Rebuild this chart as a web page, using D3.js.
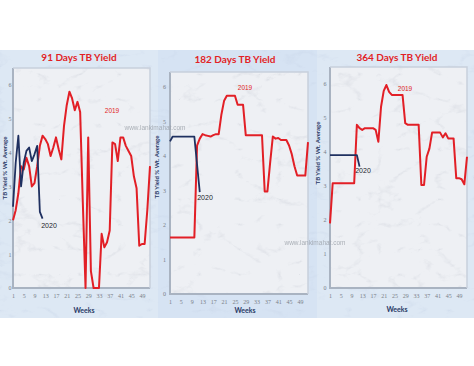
<!DOCTYPE html>
<html>
<head>
<meta charset="utf-8">
<script src="https://cdn.jsdelivr.net/npm/d3@7"></script>
<style>
  body { margin: 0; background: #fff; }
  svg { display: block; }
</style>
</head>
<body>
<svg id="chart" width="474" height="366"></svg>
<script>
const width = 474;
const height = 366;

// weeks 1..52
const weeks = d3.range(1, 53);
const weekTicks = [1, 5, 9, 13, 17, 21, 25, 29, 33, 37, 41, 45, 49];
const yTicks = [0, 1, 2, 3, 4, 5, 6];

// 91 days TB yield
const tb91_2019 = [2.0, 2.3, 2.8, 3.6, 3.5, 3.85, 3.6, 3.0, 3.1, 3.6, 4.2, 4.5, 4.4, 4.25, 3.9, 4.15, 4.45, 4.1, 3.8, 4.8,
  5.4, 5.8, 5.6, 5.25, 5.5, 5.2, 2.5, 0, 4.45, 0.5, 0, 0, 0, 1.6, 1.2, 1.35, 1.7, 4.3, 4.25, 3.75,
  4.45, 4.45, 4.2, 4.05, 3.9, 3.3, 2.95, 1.25, 1.3, 1.3, 2.3, 3.6];
const tb91_2020 = [2.4, 3.7, 4.5, 3.0, 3.7, 4.05, 4.15, 3.75, 3.95, 4.2, 2.25, 2.05];

// 182 days TB yield
const tb182_2019 = [1.64, 1.64, 1.64, 1.64, 1.64, 1.64, 1.64, 1.64, 1.64, 1.64, 4.3, 4.5, 4.63, 4.6, 4.58, 4.56, 4.6, 4.63, 4.63, 5.2,
  5.6, 5.74, 5.74, 5.74, 5.74, 5.48, 5.48, 5.48, 4.6, 4.6, 4.6, 4.6, 4.6, 4.6, 4.6, 2.97, 2.97, 3.8, 4.56, 4.5,
  4.52, 4.46, 4.46, 4.46, 4.3, 4.05, 3.7, 3.43, 3.43, 3.43, 3.43, 4.4];
const tb182_2020 = [4.42, 4.56, 4.56, 4.56, 4.56, 4.56, 4.56, 4.56, 4.56, 4.56, 3.75, 2.95];

// 364 days TB yield
const tb364_2019 = [1.9, 3.08, 3.08, 3.08, 3.08, 3.08, 3.08, 3.08, 3.08, 3.08, 4.8, 4.7, 4.65, 4.7, 4.7, 4.7, 4.7, 4.65, 4.3, 5.33,
  5.8, 5.97, 5.77, 5.68, 5.68, 5.68, 5.68, 5.68, 4.85, 4.8, 4.8, 4.8, 4.8, 4.8, 3.03, 3.03, 3.86, 4.1, 4.57, 4.57,
  4.57, 4.57, 4.43, 4.55, 4.4, 4.4, 4.4, 3.23, 3.23, 3.2, 3.05, 3.86];
const tb364_2020 = [3.91, 3.91, 3.91, 3.91, 3.91, 3.91, 3.91, 3.91, 3.91, 3.91, 3.91, 3.57];

const titles = ['91 Days TB Yield', '182 Days TB Yield', '364 Days TB Yield'];
const yTitle = 'TB Yield % Wt. Average';
const xTitle = 'Weeks';
const watermark = 'www.lankimahat.com';

const red = '#e21f26';
const navy = '#1f3060';

const panels = [
  { s2019: tb91_2019, s2020: tb91_2020, bg: [0, 158], x: [13, 150], y: [288, 68], ymax: 6.5,
    titleX: 79, titleY: 61, yTitleX: 5, yTitleY: 168, tickX: 10, weeksX: 84, weeksY: 313,
    l2019: [112, 113], l2020: [49, 228] },
  { s2019: tb182_2019, s2020: tb182_2020, bg: [158, 317], x: [170, 308], y: [294, 72], ymax: 6.43,
    titleX: 235, titleY: 63, yTitleX: 157, yTitleY: 167, tickX: 164.5, weeksX: 245, weeksY: 313,
    l2019: [245, 90], l2020: [205, 200] },
  { s2019: tb364_2019, s2020: tb364_2020, bg: [317, 474], x: [330, 467], y: [288, 67], ymax: 6.5,
    titleX: 397, titleY: 61, yTitleX: 318, yTitleY: 153, tickX: 325, weeksX: 397, weeksY: 312,
    l2019: [405, 91], l2020: [363, 173] }
];

const svg = d3.select('#chart');
const defs = svg.append('defs');

// marble veins: ridges of turbulence noise become thin grey lines
function marbleFilter(id, freq, seed, rgb, gain, cut) {
  const f = defs.append('filter').attr('id', id)
    .attr('x', 0).attr('y', 0).attr('width', '100%').attr('height', '100%');
  f.append('feTurbulence')
    .attr('type', 'turbulence')
    .attr('baseFrequency', freq)
    .attr('numOctaves', 4)
    .attr('seed', seed);
  f.append('feColorMatrix')
    .attr('type', 'matrix')
    .attr('values', `0 0 0 0 ${rgb[0]}  0 0 0 0 ${rgb[1]}  0 0 0 0 ${rgb[2]}  ${-gain} 0 0 0 ${cut}`);
  f.append('feComposite').attr('in2', 'SourceGraphic').attr('operator', 'in');
}
marbleFilter('marbleOuter', '0.02 0.045', 4, [0.55, 0.63, 0.78], 5, 0.9);
marbleFilter('marblePlot', '0.025 0.04', 9, [0.5, 0.53, 0.6], 5, 0.9);

svg.append('rect').attr('width', width).attr('height', height).attr('fill', '#fff');

panels.forEach((p, i) => {
  const g = svg.append('g');
  const x = d3.scaleLinear().domain([1, 52]).range(p.x);
  const y = d3.scaleLinear().domain([0, p.ymax]).range(p.y);

  // panel background
  g.append('rect')
    .attr('x', p.bg[0]).attr('y', 50)
    .attr('width', p.bg[1] - p.bg[0]).attr('height', 268)
    .attr('fill', i === 1 ? '#d6e3f3' : '#dde8f4');
  g.append('rect')
    .attr('x', p.bg[0]).attr('y', 50)
    .attr('width', p.bg[1] - p.bg[0]).attr('height', 268)
    .attr('fill', '#000')
    .attr('opacity', 0.35)
    .attr('filter', 'url(#marbleOuter)');

  // plot area
  const px0 = p.x[0], px1 = p.x[1], py0 = p.y[1], py1 = p.y[0];
  g.append('rect')
    .attr('x', px0).attr('y', py0)
    .attr('width', px1 - px0).attr('height', py1 - py0)
    .attr('fill', '#eef0f4');
  g.append('rect')
    .attr('x', px0).attr('y', py0)
    .attr('width', px1 - px0).attr('height', py1 - py0)
    .attr('fill', '#000')
    .attr('opacity', 0.3)
    .attr('filter', 'url(#marblePlot)');
  // wall edges
  g.append('path')
    .attr('d', `M${px0},${py0}V${py1}H${px1}`)
    .attr('fill', 'none')
    .attr('stroke', '#a9b3c1')
    .attr('stroke-width', 2);
  g.append('path')
    .attr('d', `M${px0},${py0}H${px1}V${py1}`)
    .attr('fill', 'none')
    .attr('stroke', '#c8d0dc')
    .attr('stroke-width', 1.5);

  // title
  g.append('text')
    .attr('x', p.titleX).attr('y', p.titleY)
    .attr('text-anchor', 'middle')
    .attr('font-family', 'Lato, "Open Sans", sans-serif')
    .attr('font-weight', 'bold')
    .attr('font-size', 10)
    .attr('fill', red)
    .text(titles[i]);

  // axes
  const xAxis = g.append('g')
    .attr('transform', `translate(0,${py1 + 4})`)
    .call(d3.axisBottom(x).tickValues(weekTicks).tickSize(0).tickPadding(2));
  xAxis.select('.domain').remove();
  xAxis.selectAll('text')
    .attr('font-family', '"Liberation Serif", serif')
    .attr('font-size', 6)
    .attr('fill', '#7a7f88');

  const yAxis = g.append('g')
    .attr('transform', `translate(${p.tickX},0)`)
    .call(d3.axisLeft(y).tickValues(yTicks).tickFormat(d3.format('d')).tickSize(0).tickPadding(0));
  yAxis.select('.domain').remove();
  yAxis.selectAll('text')
    .attr('text-anchor', 'middle')
    .attr('x', 0)
    .attr('font-family', '"Liberation Serif", serif')
    .attr('font-size', 6)
    .attr('fill', '#7a7f88');

  g.append('text')
    .attr('transform', `translate(${p.yTitleX},${p.yTitleY}) rotate(-90)`)
    .attr('text-anchor', 'middle')
    .attr('dy', '0.35em')
    .attr('font-family', 'Lato, sans-serif')
    .attr('font-weight', 'bold')
    .attr('font-size', 6)
    .attr('fill', '#2a3a66')
    .text(yTitle);

  g.append('text')
    .attr('x', p.weeksX).attr('y', p.weeksY)
    .attr('text-anchor', 'middle')
    .attr('font-family', 'Lato, sans-serif')
    .attr('font-weight', 'bold')
    .attr('font-size', 7)
    .attr('fill', '#2a3a66')
    .text(xTitle);

  // lines
  const line = d3.line()
    .x((d, k) => x(weeks[k]))
    .y(d => y(d));

  g.append('path')
    .datum(p.s2019)
    .attr('d', line)
    .attr('fill', 'none')
    .attr('stroke', red)
    .attr('stroke-width', 2)
    .attr('stroke-linejoin', 'round');

  g.append('path')
    .datum(p.s2020)
    .attr('d', line)
    .attr('fill', 'none')
    .attr('stroke', navy)
    .attr('stroke-width', 1.8)
    .attr('stroke-linejoin', 'round');

  g.append('text')
    .attr('x', p.l2019[0]).attr('y', p.l2019[1])
    .attr('text-anchor', 'middle')
    .attr('font-family', '"Liberation Sans", sans-serif')
    .attr('font-size', 6.5)
    .attr('fill', red)
    .text('2019');

  g.append('text')
    .attr('x', p.l2020[0]).attr('y', p.l2020[1])
    .attr('text-anchor', 'middle')
    .attr('font-family', '"Liberation Sans", sans-serif')
    .attr('font-size', 7)
    .attr('fill', '#1a1a2a')
    .text('2020');
});

// watermarks
[[155, 130], [315, 245]].forEach(pos => {
  svg.append('text')
    .attr('x', pos[0]).attr('y', pos[1])
    .attr('text-anchor', 'middle')
    .attr('font-family', '"Liberation Sans", sans-serif')
    .attr('font-size', 6.5)
    .attr('fill', '#9aa0a8')
    .attr('opacity', 0.8)
    .text(watermark);
});
</script>
</body>
</html>
